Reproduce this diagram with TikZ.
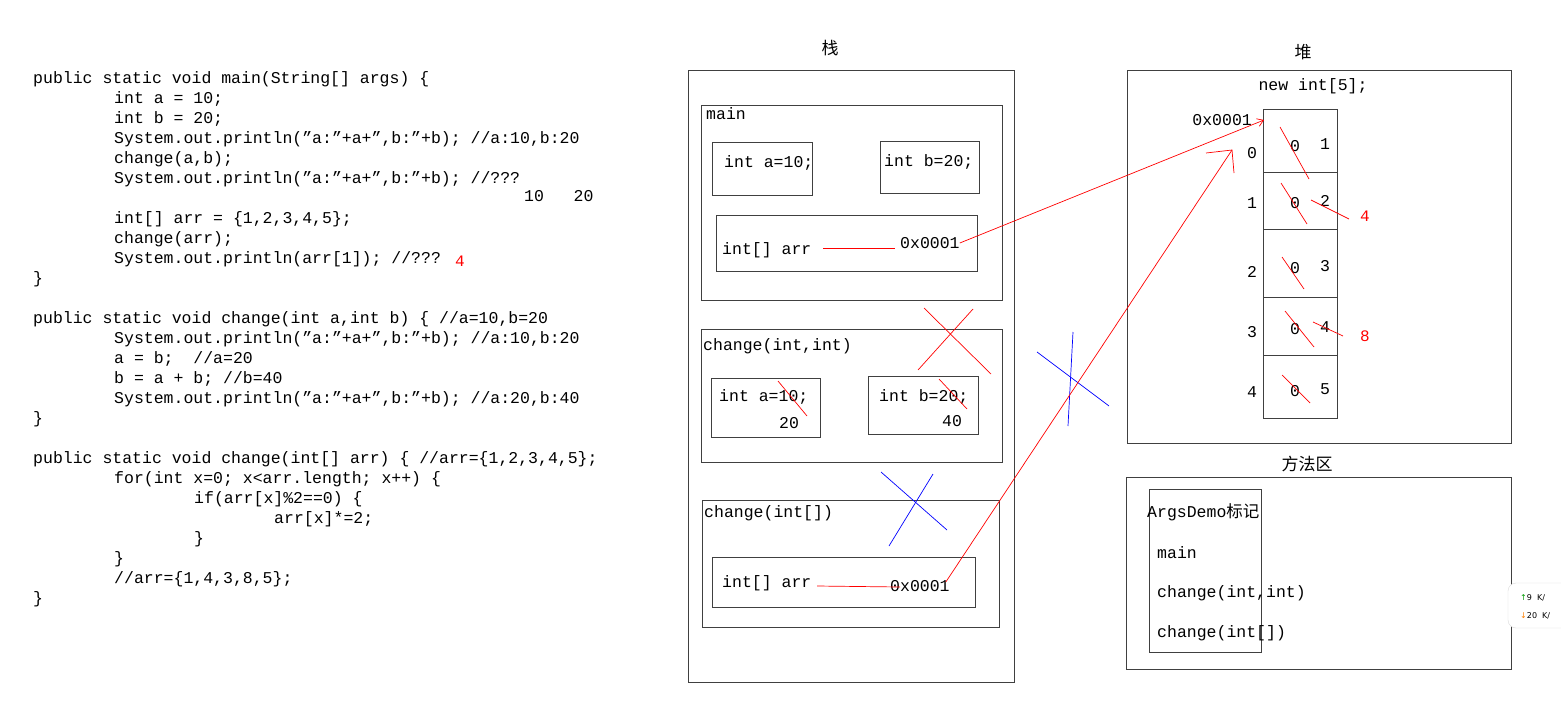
\documentclass[tikz,border=0pt]{standalone}
\usetikzlibrary{arrows.meta}
\usepackage{fontspec}
\setmainfont{Liberation Mono}
\newfontfamily\cjk{Noto Sans CJK SC}
\newfontfamily\wsans{DejaVu Sans}
\begin{document}
\begin{tikzpicture}[x=1pt,y=-1pt,
 c/.style={anchor=west,inner sep=0pt,font=\fontsize{16.5}{16.5}\selectfont},
 t/.style={inner sep=0pt,font=\fontsize{17}{17}\selectfont\cjk},
 bx/.style={draw=black!75,line width=0.9pt},
 rl/.style={draw=red,line width=0.7pt},
 bl/.style={draw=blue,line width=0.7pt},
 rn/.style={inner sep=0pt,text=red,font=\fontsize{16}{16}\selectfont}]
\useasboundingbox (0,0) rectangle (1561,721);
% code
\node[c] (l1) at (33,79) {public static void main(String[] args) \{};
\node[c] (l2) at (114,99) {int a = 10;};
\node[c] (l3) at (114,119) {int b = 20;};
\node[c] (l4) at (114,139) {System.out.println("a:"+a+",b:"+b); //a:10,b:20};
\node[c] (l5) at (114,159) {change(a,b);};
\node[c] (l6) at (114,179) {System.out.println("a:"+a+",b:"+b); //???};
\node[c] (l6b) at (524,196) {10\ \ \ 20};
\node[c] (l7) at (114,219) {int[] arr = \{1,2,3,4,5\};};
\node[c] (l8) at (114,239) {change(arr);};
\node[c] (l9) at (114,259) {System.out.println(arr[1]); //???};
\node[rn,anchor=west] (l9b) at (455,261) {4};
\node[c] (l10) at (33,279) {\}};
\node[c] (m1) at (33,319) {public static void change(int a,int b) \{ //a=10,b=20};
\node[c] (m2) at (114,339) {System.out.println("a:"+a+",b:"+b); //a:10,b:20};
\node[c] (m3) at (114,359) {a = b;\ \ //a=20};
\node[c] (m4) at (114,379) {b = a + b; //b=40};
\node[c] (m5) at (114,399) {System.out.println("a:"+a+",b:"+b); //a:20,b:40};
\node[c] (m6) at (33,419) {\}};
\node[c] (n1) at (33,459) {public static void change(int[] arr) \{ //arr=\{1,2,3,4,5\};};
\node[c] (n2) at (114,479) {for(int x=0; x<arr.length; x++) \{};
\node[c] (n3) at (194,499) {if(arr[x]\%2==0) \{};
\node[c] (n4) at (274,519) {arr[x]*=2;};
\node[c] (n5) at (194,539) {\}};
\node[c] (n6) at (114,559) {\}};
\node[c] (n7) at (114,579) {//arr=\{1,4,3,8,5\};};
\node[c] (n8) at (33,599) {\}};
% stack
\node[t] (st) at (830,48) {栈};
\draw[bx] (688,70) rectangle (1014,682);
\draw[bx] (701,105) rectangle (1002,300);
\node[c] (mainl) at (706,114) {main};
\draw[bx] (712,142) rectangle (812,195);
\node[c] (ia) at (724,163) {int a=10;};
\draw[bx] (880,141) rectangle (979,193);
\node[c] (ib) at (884,162) {int b=20;};
\draw[bx] (716,215) rectangle (977,271);
\node[c] (arr1) at (722,250) {int[] arr};
\node[c] (ad1) at (900,243) {0x0001};
\draw[rl] (823,248) -- (895,248);
\draw[bx] (701,329) rectangle (1002,462);
\node[c] (cil) at (703,346) {change(int,int)};
\draw[bx] (711,378) rectangle (820,437);
\node[c] (ca) at (719,397) {int a=10;};
\node[c] (ca2) at (779,423) {20};
\draw[bx] (868,376) rectangle (978,434);
\node[c] (cb) at (879,397) {int b=20;};
\node[c] (cb2) at (942,421) {40};
\draw[rl] (778,381) -- (807,416);
\draw[rl] (939,379) -- (967,409);
\draw[rl] (924,308) -- (991,374);
\draw[rl] (918,370) -- (973,309);
\draw[bx] (702,500) rectangle (999,627);
\node[c] (cal) at (704,513) {change(int[])};
\draw[bx] (712,557) rectangle (975,607);
\node[c] (arr2) at (722,583) {int[] arr};
\node[c] (ad2) at (890,586) {0x0001};
\draw[rl] (817,586) -- (900,587);
\draw[bl] (881,472) -- (947,530);
\draw[bl] (889,546) -- (933,474);
\draw[bl] (1037,352) -- (1109,406);
\draw[bl] (1073,332) -- (1068,426);
% heap
\node[t] (hp) at (1303,52) {堆};
\draw[bx] (1127,70) rectangle (1511,443);
\node[c,anchor=center] (new) at (1313,86) {new int[5];};
\node[c,anchor=east] (hadr) at (1252,120) {0x0001};
\node[draw=black!75,line width=0.9pt,inner sep=0pt,minimum width=74pt,minimum height=309pt] (ar) at (1300,263.5) {};
\foreach \yy in {172,229,297,355} \draw[bx] (1263,\yy) -- (1337,\yy);
\foreach \i/\yy in {0/153,1/203,2/272,3/332,4/392} \node[c,anchor=center] (ix\i) at (1252,\yy) {\i};
\foreach \i/\yy/\v in {0/146/1,1/203/2,2/268/3,3/329/4,4/391/5}{
 \node[c,anchor=center] (z\i) at (1295,\yy) {0};
 \node[c,anchor=center] (v\i) at (1325,\yy-2) {\v};}
\draw[rl] (1280,127) -- (1309,179);
\draw[rl] (1281,183) -- (1307,224);
\draw[rl] (1282,257) -- (1304,289);
\draw[rl] (1285,311) -- (1314,347);
\draw[rl] (1282,375) -- (1310,403);
\draw[rl] (1311,200) -- (1349,219);
\node[rn] (r4) at (1365,216) {4};
\draw[rl] (1313,322) -- (1343,336);
\node[rn] (r8) at (1365,336) {8};
\coordinate (h1) at (1264,120);
\coordinate (h2) at (1232,150);
\draw[rl,-{Straight Barb[length=6pt,width=8pt]}] (ad1.east) -- (h1);
\draw[rl] (ad2.east) ++(-4,-4) -- (h2);
\draw[rl] (1206,153) -- (h2) -- (1234,173);
% method area
\node[t] (ma) at (1307,464) {方法区};
\draw[bx] (1126,477) rectangle (1511,669);
\draw[bx] (1149,489) rectangle (1261,652);
\node[c] (ad) at (1147,512) {ArgsDemo{\cjk 标记}};
\node[c] (mm) at (1157,553) {main};
\node[c] (mc1) at (1157,593) {change(int,int)};
\node[c] (mc2) at (1157,633) {change(int[])};
% widget
\draw[black!15,fill=white,rounded corners=8pt] (1508,583) rectangle (1575,628);
\node[anchor=west,inner sep=0pt,font=\fontsize{8}{8}\selectfont\wsans] (w1) at (1520,598) {\textcolor{green!60!black}{↑}9\ \ K/};
\node[anchor=west,inner sep=0pt,font=\fontsize{8}{8}\selectfont\wsans] (w2) at (1520,616) {\textcolor{orange}{↓}20\ \ K/};
\end{tikzpicture}
\end{document}
